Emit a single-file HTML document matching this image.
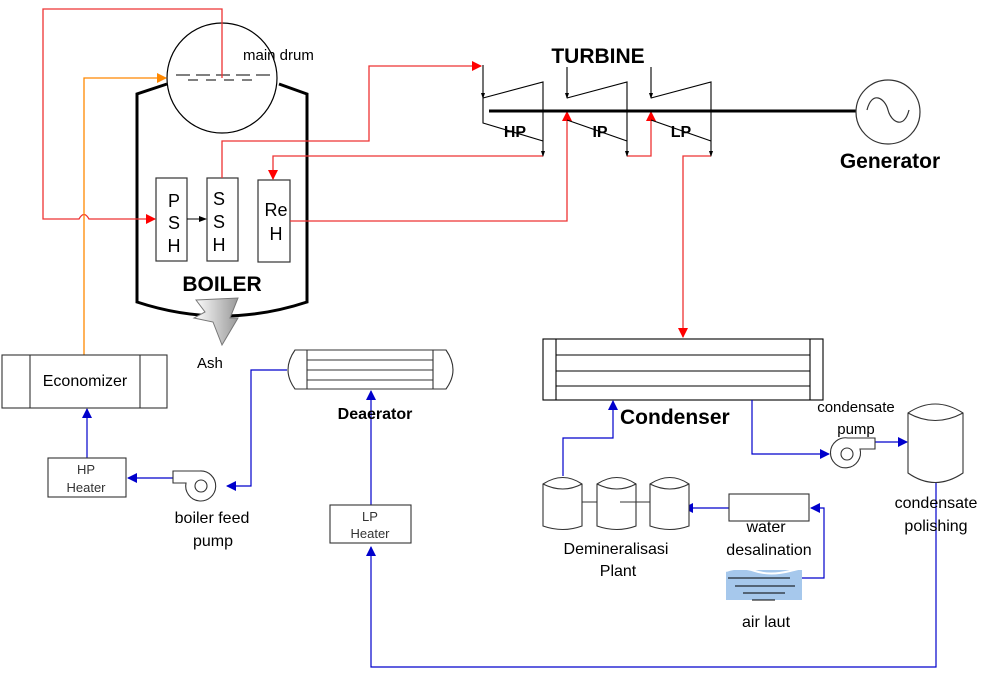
<!DOCTYPE html>
<html><head><meta charset="utf-8"><style>html,body{margin:0;padding:0;background:#fff}svg{display:block}text{font-family:"Liberation Sans",Arial,sans-serif}</style></head><body>
<svg width="991" height="677" viewBox="0 0 991 677" xmlns="http://www.w3.org/2000/svg">
<defs>
<marker id="r" markerWidth="10" markerHeight="10" refX="9" refY="5" orient="auto" markerUnits="userSpaceOnUse"><path d="M0,0 L10,5 L0,10z" fill="#f00"/></marker>
<marker id="o" markerWidth="10" markerHeight="10" refX="9" refY="5" orient="auto" markerUnits="userSpaceOnUse"><path d="M0,0 L10,5 L0,10z" fill="#f80"/></marker>
<marker id="b" markerWidth="10" markerHeight="10" refX="9" refY="5" orient="auto" markerUnits="userSpaceOnUse"><path d="M0,0 L10,5 L0,10z" fill="#00c"/></marker>
<marker id="k" markerWidth="8" markerHeight="8" refX="7" refY="4" orient="auto" markerUnits="userSpaceOnUse"><path d="M0,1 L8,4 L0,7z" fill="#000"/></marker>
<marker id="ks" markerWidth="6" markerHeight="6" refX="5" refY="3" orient="auto" markerUnits="userSpaceOnUse"><path d="M0,1 L6,3 L0,5z" fill="#000"/></marker>
<linearGradient id="g" x1="0" x2="1"><stop offset="0" stop-color="#fff"/><stop offset="1" stop-color="#999"/></linearGradient>
</defs>
<path d="M167,84 L137,94 L137,302 Q222,330 307,302 L307,94 L279,84" fill="none" stroke="#000" stroke-width="3"/>
<circle cx="222" cy="78" r="55" fill="#fff" stroke="#000" stroke-width="1.2"/>
<g stroke="#000" stroke-width="1"><line x1="176" y1="75" x2="270" y2="75" stroke-dasharray="14,6"/><line x1="188" y1="80" x2="258" y2="80" stroke-dasharray="10,8"/></g>
<text x="243" y="60" font-size="15">main drum</text>
<path d="M196,300 L238,298 L230,318 L238,318 L222,345 L213,322 L194,318 L205,312z" fill="url(#g)" stroke="#777"/>
<text x="197" y="368" font-size="15">Ash</text>
<g fill="#fff" stroke="#333" stroke-width="1.2">
<rect x="156" y="178" width="31" height="83"/><rect x="207" y="178" width="31" height="83"/><rect x="258" y="180" width="32" height="82"/>
</g>
<g font-size="18" text-anchor="middle"><text x="174" y="207">P</text><text x="174" y="229">S</text><text x="174" y="252">H</text>
<text x="219" y="205">S</text><text x="219" y="228">S</text><text x="219" y="251">H</text>
<text x="276" y="216">Re</text><text x="276" y="240">H</text></g>
<line x1="187" y1="219" x2="206" y2="219" stroke="#000" marker-end="url(#k)"/>
<text x="222" y="291" font-size="21" font-weight="bold" text-anchor="middle">BOILER</text>
<g fill="none" stroke="#e33" stroke-width="1.3">
<path d="M222,78 V9 H43 V219 H79 Q84,210 89,219 H155" marker-end="url(#r)"/>
<path d="M222,178 V141 H369 V66 H481" marker-end="url(#r)"/>
<path d="M543,156 H273 V179" marker-end="url(#r)"/>
<path d="M290,221 H567 V112" marker-end="url(#r)"/>
<path d="M627,156 H651 V112" marker-end="url(#r)"/>
<path d="M711,156 H683 V337" marker-end="url(#r)"/>
</g>
<path d="M84,355 V78 H166" fill="none" stroke="#f80" stroke-width="1.3" marker-end="url(#o)"/>
<g fill="none" stroke="#000" stroke-width="1.1">
<path d="M483,65 V98" marker-end="url(#ks)"/><path d="M483,98 L543,82 V156" marker-end="url(#ks)"/><path d="M483,98 V123 L543,141"/>
<path d="M567,67 V98" marker-end="url(#ks)"/><path d="M567,98 L627,82 V156" marker-end="url(#ks)"/><path d="M567,120 L627,141"/>
<path d="M651,67 V98" marker-end="url(#ks)"/><path d="M651,98 L711,82 V156" marker-end="url(#ks)"/><path d="M651,120 L711,141"/>
</g>
<line x1="489" y1="111" x2="856" y2="111" stroke="#000" stroke-width="3"/>
<circle cx="888" cy="112" r="32" fill="#fff" stroke="#333" stroke-width="1.2"/>
<path d="M867,112 C872,92 885,100 888,112 C891,124 904,132 909,112" fill="none" stroke="#333" stroke-width="1.2" transform="translate(0,-2)"/>
<g font-weight="bold" font-size="16" text-anchor="middle"><text x="515" y="137">HP</text><text x="600" y="137">IP</text><text x="681" y="137">LP</text></g>
<text x="598" y="63" font-size="21" font-weight="bold" text-anchor="middle">TURBINE</text>
<text x="890" y="168" font-size="21" font-weight="bold" text-anchor="middle">Generator</text>
<g fill="#fff" stroke="#000" stroke-width="1.1">
<rect x="543" y="339" width="280" height="61"/><line x1="556" y1="339" x2="556" y2="400"/><line x1="810" y1="339" x2="810" y2="400"/>
<line x1="556" y1="355" x2="810" y2="355"/><line x1="556" y1="371" x2="810" y2="371"/><line x1="556" y1="386" x2="810" y2="386"/>
</g>
<text x="620" y="424" font-size="21" font-weight="bold">Condenser</text>
<g fill="none" stroke="#00c" stroke-width="1.2">
<path d="M752,400 V454 H829" marker-end="url(#b)"/>
<path d="M875,442 H907" marker-end="url(#b)"/>
<path d="M936,481 V667 H371 V547" marker-end="url(#b)"/>
<path d="M371,505 V391" marker-end="url(#b)"/>
<path d="M287,370 H251 V486 H227" marker-end="url(#b)"/>
<path d="M173,478 H128" marker-end="url(#b)"/>
<path d="M87,458 V409" marker-end="url(#b)"/>
<path d="M563,476 V438 H613 V401" marker-end="url(#b)"/>
<path d="M729,508 H684" marker-end="url(#b)"/>
<path d="M790,578 H824 V508 H811" marker-end="url(#b)"/>
</g>
<g fill="#fff" stroke="#333" stroke-width="1.1">
<path d="M848,438 H875 V449 H860 A15,15 0 1 1 848,438z"/><circle cx="847" cy="454" r="6"/>
</g>
<text x="856" y="412" font-size="15" text-anchor="middle">condensate</text>
<text x="856" y="434" font-size="15" text-anchor="middle">pump</text>
<path d="M908,413 Q935,395 963,413 V473 Q935,492 908,473z M908,413 Q935,428 963,413" fill="#fff" stroke="#333" stroke-width="1.1"/>
<text x="936" y="508" font-size="16" text-anchor="middle">condensate</text>
<text x="936" y="531" font-size="16" text-anchor="middle">polishing</text>
<g fill="#fff" stroke="#333" stroke-width="1.1">
<line x1="582" y1="502" x2="648" y2="502"/>
<path d="M543,484 Q563,471 582,484 V526 Q563,533 543,526z M543,484 Q563,494 582,484"/>
<path d="M597,484 Q617,471 636,484 V526 Q617,533 597,526z M597,484 Q617,494 636,484"/>
<path d="M650,484 Q670,471 689,484 V526 Q670,533 650,526z M650,484 Q670,494 689,484"/>
<line x1="620" y1="502" x2="650" y2="502"/>
</g>
<text x="616" y="554" font-size="16" text-anchor="middle">Demineralisasi</text>
<text x="618" y="576" font-size="16" text-anchor="middle">Plant</text>
<rect x="729" y="494" width="80" height="27" fill="#fff" stroke="#333" stroke-width="1.1"/>
<text x="766" y="532" font-size="16" text-anchor="middle">water</text>
<text x="769" y="555" font-size="16" text-anchor="middle">desalination</text>
<rect x="726" y="570" width="76" height="30" fill="#a6c8ec"/>
<path d="M726,571 Q740,566 755,571 T790,571 T802,570" stroke="#fff" stroke-width="2" fill="none"/>
<g stroke="#000"><line x1="728" y1="578" x2="790" y2="578"/><line x1="735" y1="586" x2="795" y2="586"/><line x1="743" y1="593" x2="785" y2="593"/><line x1="752" y1="600" x2="775" y2="600"/></g>
<text x="766" y="627" font-size="16" text-anchor="middle">air laut</text>
<g fill="#fff" stroke="#333" stroke-width="1.1">
<path d="M295,350 H446 Q460,370 446,389 H295 Q281,370 295,350z"/>
<line x1="307" y1="350" x2="307" y2="389"/><line x1="433" y1="350" x2="433" y2="389"/>
<line x1="307" y1="360" x2="433" y2="360"/><line x1="307" y1="370" x2="433" y2="370"/><line x1="307" y1="380" x2="433" y2="380"/>
</g>
<text x="375" y="419" font-size="16" font-weight="bold" text-anchor="middle">Deaerator</text>
<rect x="330" y="505" width="81" height="38" fill="#fff" stroke="#333" stroke-width="1.1"/>
<text x="370" y="521" font-size="13" fill="#333" text-anchor="middle">LP</text>
<text x="370" y="538" font-size="13" fill="#333" text-anchor="middle">Heater</text>
<g fill="#fff" stroke="#333" stroke-width="1.1">
<path d="M200,471 H173 V483 H186 A15,15 0 1 0 200,471z"/><circle cx="201" cy="486" r="6"/>
</g>
<text x="212" y="523" font-size="16" text-anchor="middle">boiler feed</text>
<text x="213" y="546" font-size="16" text-anchor="middle">pump</text>
<rect x="48" y="458" width="78" height="39" fill="#fff" stroke="#333" stroke-width="1.1"/>
<text x="86" y="474" font-size="13" fill="#333" text-anchor="middle">HP</text>
<text x="86" y="492" font-size="13" fill="#333" text-anchor="middle">Heater</text>
<g fill="#fff" stroke="#333" stroke-width="1.1">
<rect x="2" y="355" width="165" height="53"/><line x1="30" y1="355" x2="30" y2="408"/><line x1="140" y1="355" x2="140" y2="408"/>
</g>
<text x="85" y="386" font-size="16" text-anchor="middle">Economizer</text>
</svg>
</body></html>
